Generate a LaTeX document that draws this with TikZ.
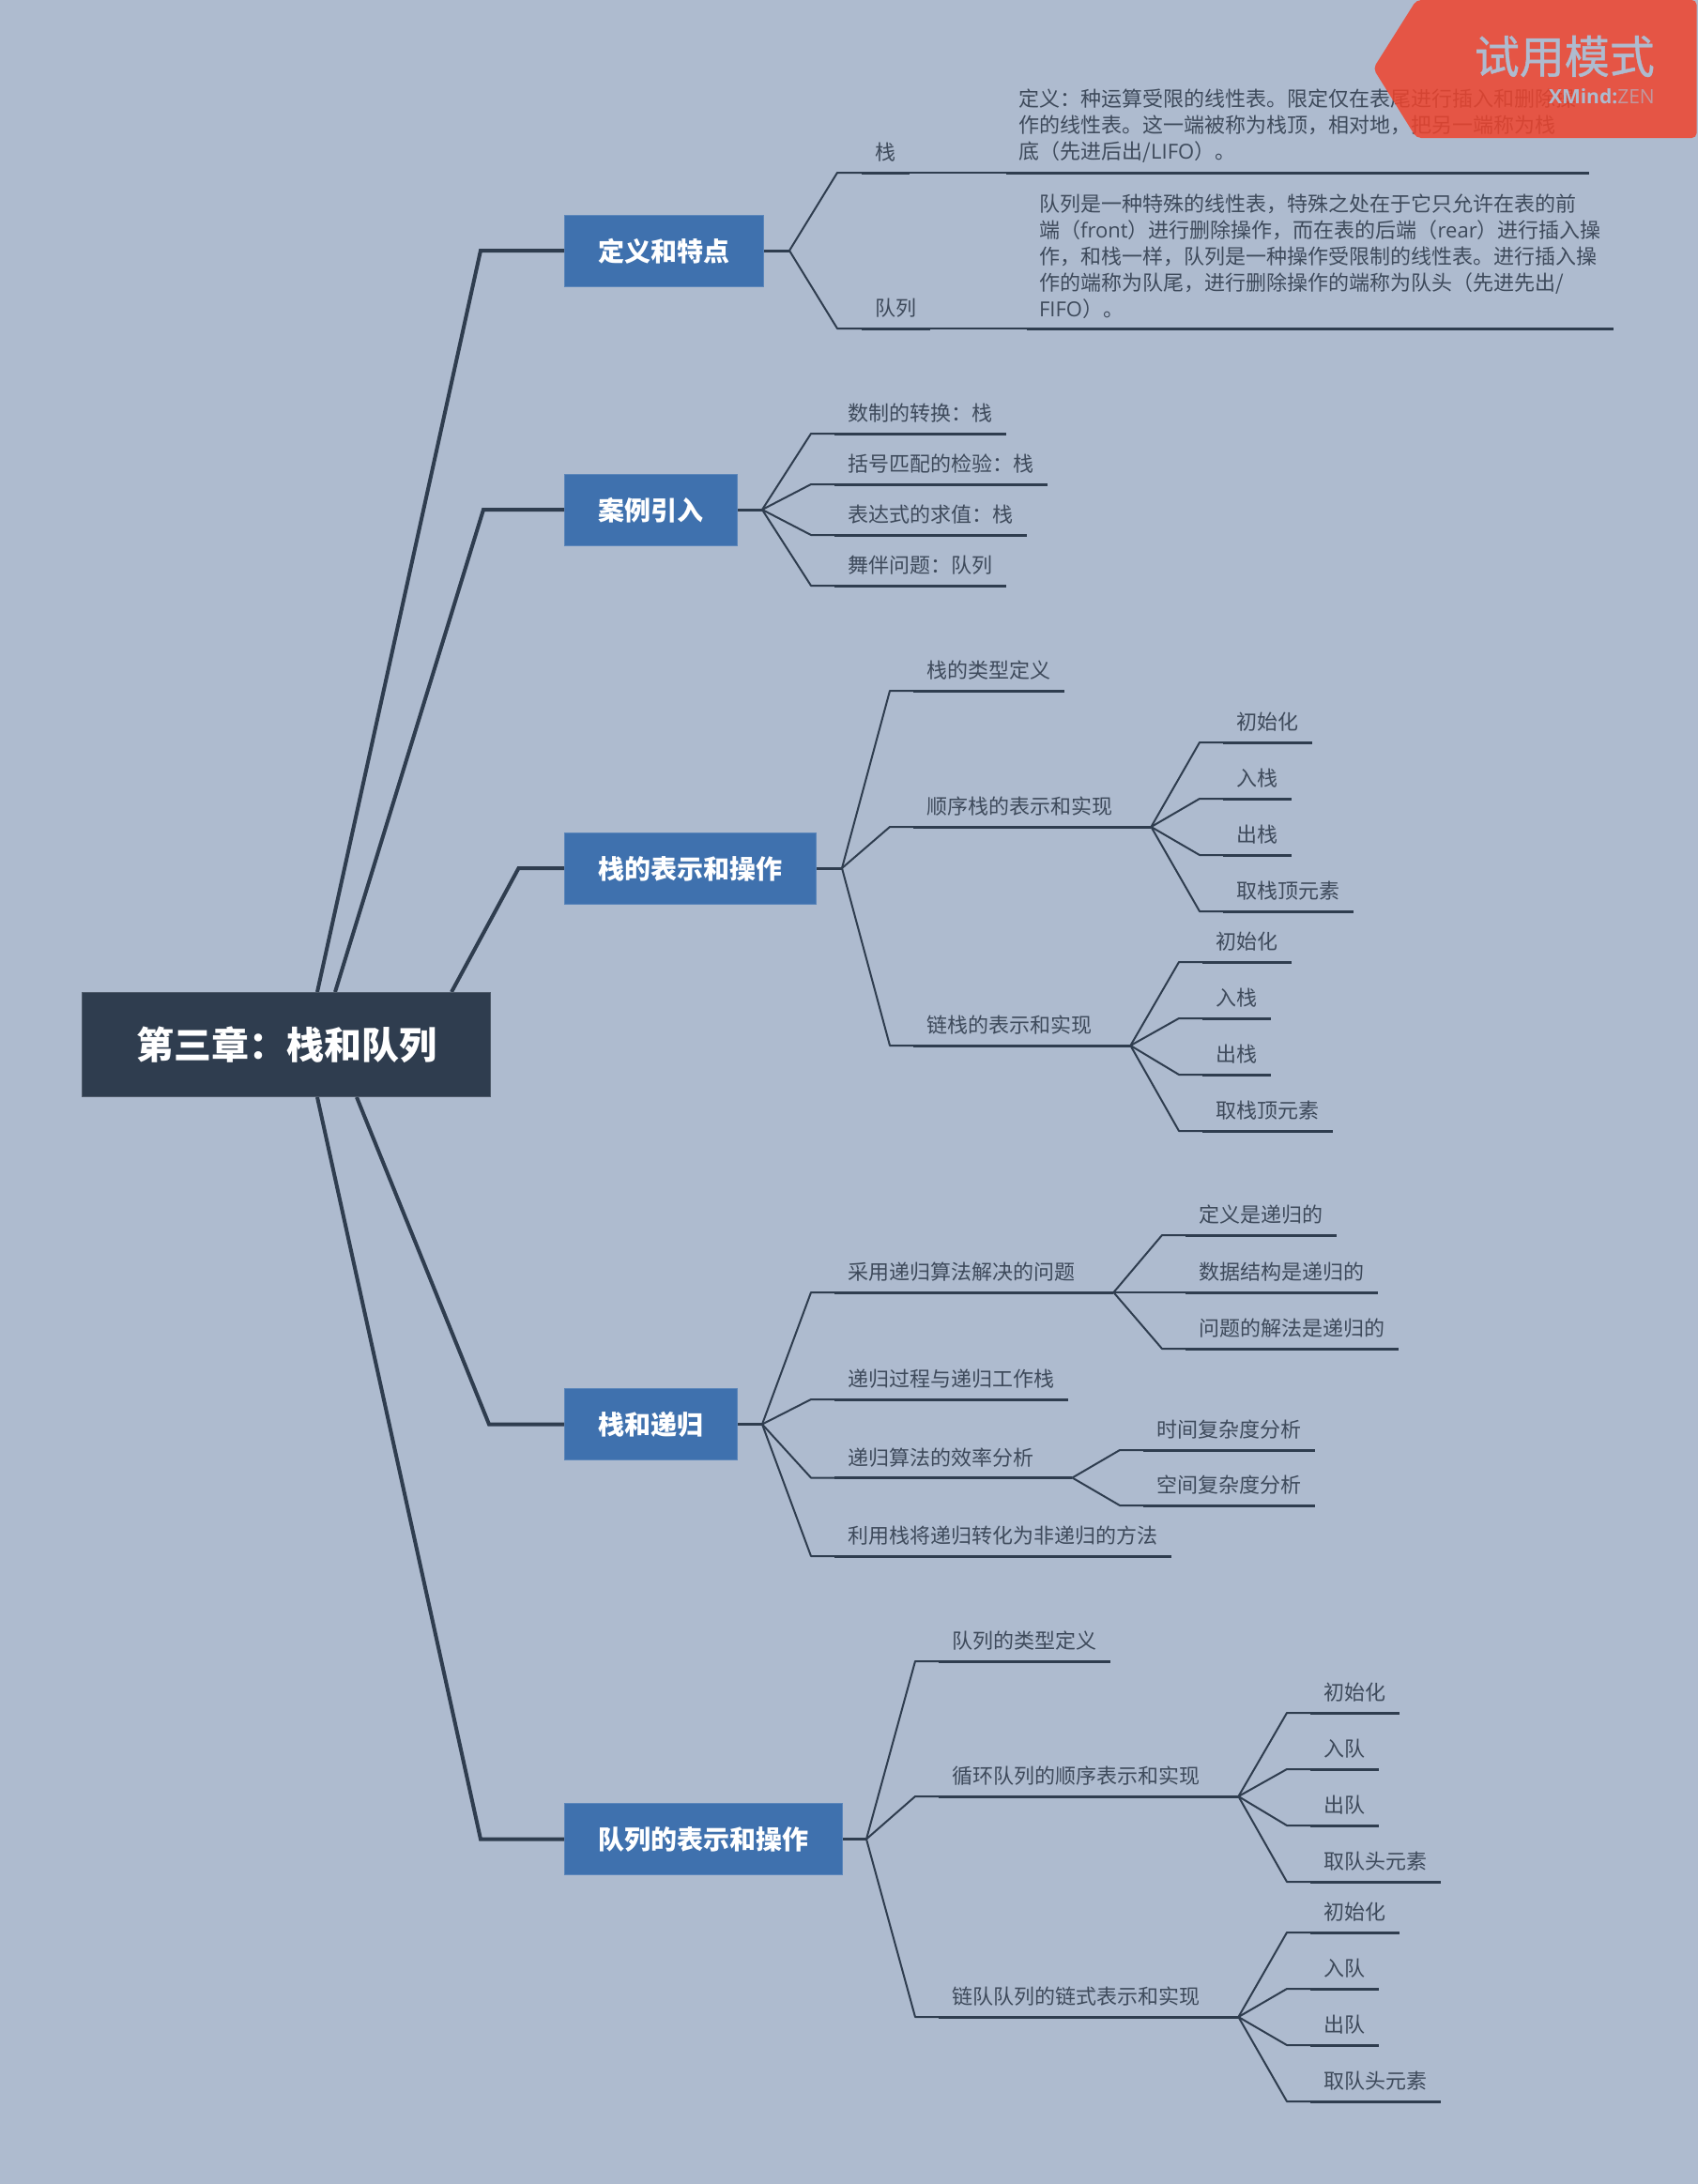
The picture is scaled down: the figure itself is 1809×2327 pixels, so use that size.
\documentclass[tikz,border=0pt]{standalone}
\usepackage{fontspec}
\usepackage{xcolor}
\usetikzlibrary{positioning}
\setmainfont{Noto Sans CJK SC}
\newfontfamily\brandfont{Open Sans}
\newfontfamily\markfont[FakeBold=0.8]{Noto Sans CJK SC}

\definecolor{bgblue}{HTML}{AEBBCF}
\definecolor{inkdark}{HTML}{2F3D4F}
\definecolor{inktext}{HTML}{3E4A5B}
\definecolor{topicblue}{HTML}{3F71AE}
\definecolor{markred}{HTML}{EF442D}

\begin{document}
\begin{tikzpicture}[x=1pt, y=-1pt]
	\tikzset{
		root/.style={rectangle, draw=inkdark!85!white, line width=1pt, fill=inkdark, text=white, font=\fontsize{40pt}{48pt}\selectfont\bfseries,
		minimum width=435pt, minimum height=111pt},
		topic/.style={rectangle, draw=topicblue!85!white, line width=1pt, fill=topicblue, text=white, font=\fontsize{28pt}{34pt}\selectfont\bfseries,
		anchor=west, minimum height=76pt, inner xsep=36pt, text height=26pt, text depth=3.5pt},
		ruled/.style={rectangle, anchor=south west, text=inktext, font=\fontsize{22pt}{28pt}\selectfont,
		append after command={(\tikzlastnode.south west) edge[underline] (\tikzlastnode.south east)}},
		leaf/.style={ruled, minimum height=44pt, inner xsep=14.5pt, inner ysep=0pt, text height=20pt, text depth=2pt},
		note/.style={ruled, align=left, inner xsep=13pt, inner ysep=10pt},
		underline/.style={draw=inkdark, line width=3pt},
		trunk/.style={draw=inkdark, line width=4pt},
		stem/.style={draw=inkdark, line width=3pt},
		twig/.style={draw=inkdark, line width=2pt, line join=bevel}
	}
	\fill[bgblue] (0,0) rectangle (1809,2327);
	\useasboundingbox (0,0) rectangle (1809,2327);

	\node[topic](defn) at (601,267){定义和特点};
	\node[topic](cases) at (601,543){案例引入};
	\node[topic](stack) at (601,925){栈的表示和操作};
	\node[topic](recur) at (601,1517.5){栈和递归};
	\node[topic](queue) at (601,1959.5){队列的表示和操作};

	\draw[trunk](338,1057) -- (512,267) -- (defn.west);
	\draw[trunk](357,1057) -- (515,543) -- (cases.west);
	\draw[trunk](481,1057) -- (552.5,925) -- (stack.west);
	\draw[trunk](380,1169) -- (521,1517.5) -- (recur.west);
	\draw[trunk](338,1169) -- (512,1959.5) -- (queue.west);
	\node[root](main) at (305,1113){第三章：栈和队列};

	% definitions
	\coordinate (defnjoin) at ([xshift=27pt]defn.east);
	\draw[stem](defn.east) -- (defnjoin);
	\node[leaf](defstack) at (918,184){栈};
	\node[note, right=103pt of defstack.south east, anchor=south west](defstacktext){定义：种运算受限的线性表。限定仅在表尾进行插入和删除操\\作的线性表。这一端被称为栈顶，相对地，把另一端称为栈\\底（先进后出/{\brandfont LIFO}）。};
	\node[leaf](defqueue) at (918,350){队列};
	\node[note, right=102.5pt of defqueue.south east, anchor=south west](defqueuetext){队列是一种特殊的线性表，特殊之处在于它只允许在表的前\\端（{\brandfont front}）进行删除操作，而在表的后端（{\brandfont rear}）进行插入操\\作，和栈一样，队列是一种操作受限制的线性表。进行插入操\\作的端称为队尾，进行删除操作的端称为队头（先进先出/\\{\brandfont FIFO}）。};
	\draw[twig](defnjoin) -- ([xshift=-26pt]defstack.south west) -- (defstack.south west);
	\draw[twig](defnjoin) -- ([xshift=-26pt]defqueue.south west) -- (defqueue.south west);
	\draw[twig](defstack.south east) -- (defstacktext.south west);
	\draw[twig](defqueue.south east) -- (defqueuetext.south west);

	% cases
	\coordinate (casesjoin) at ([xshift=26pt]cases.east);
	\draw[stem](cases.east) -- (casesjoin);
	\node[leaf](caseA) at (889,462){数制的转换：栈};
	\node[leaf, below=54pt of caseA.south west, anchor=south west](caseB){括号匹配的检验：栈};
	\node[leaf, below=54pt of caseB.south west, anchor=south west](caseC){表达式的求值：栈};
	\node[leaf, below=54pt of caseC.south west, anchor=south west](caseD){舞伴问题：队列};
	\draw[twig](casesjoin) -- ([xshift=-25pt]caseA.south west) -- (caseA.south west);
	\draw[twig](casesjoin) -- ([xshift=-25pt]caseB.south west) -- (caseB.south west);
	\draw[twig](casesjoin) -- ([xshift=-25pt]caseC.south west) -- (caseC.south west);
	\draw[twig](casesjoin) -- ([xshift=-25pt]caseD.south west) -- (caseD.south west);

	% stack
	\coordinate (stackjoin) at ([xshift=27pt]stack.east);
	\draw[stem](stack.east) -- (stackjoin);
	\node[leaf](stype) at (973,736){栈的类型定义};
	\node[leaf](sseq) at (973,881){顺序栈的表示和实现};
	\node[leaf](slink) at (973,1114){链栈的表示和实现};
	\draw[twig](stackjoin) -- ([xshift=-25pt]stype.south west) -- (stype.south west);
	\draw[twig](stackjoin) -- ([xshift=-25pt]sseq.south west) -- (sseq.south west);
	\draw[twig](stackjoin) -- ([xshift=-25pt]slink.south west) -- (slink.south west);

	\coordinate (sseqjoin) at ([xshift=26pt]sseq.south east);
	\draw[stem](sseq.south east) -- (sseqjoin);
	\node[leaf](sseqA) at (1303,791){初始化};
	\node[leaf, below=60pt of sseqA.south west, anchor=south west](sseqB){入栈};
	\node[leaf, below=60pt of sseqB.south west, anchor=south west](sseqC){出栈};
	\node[leaf, below=60pt of sseqC.south west, anchor=south west](sseqD){取栈顶元素};
	\draw[twig](sseqjoin) -- ([xshift=-25pt]sseqA.south west) -- (sseqA.south west);
	\draw[twig](sseqjoin) -- ([xshift=-25pt]sseqB.south west) -- (sseqB.south west);
	\draw[twig](sseqjoin) -- ([xshift=-25pt]sseqC.south west) -- (sseqC.south west);
	\draw[twig](sseqjoin) -- ([xshift=-25pt]sseqD.south west) -- (sseqD.south west);

	\coordinate (slinkjoin) at ([xshift=26pt]slink.south east);
	\draw[stem](slink.south east) -- (slinkjoin);
	\node[leaf](slinkA) at (1281,1025){初始化};
	\node[leaf, below=60pt of slinkA.south west, anchor=south west](slinkB){入栈};
	\node[leaf, below=60pt of slinkB.south west, anchor=south west](slinkC){出栈};
	\node[leaf, below=60pt of slinkC.south west, anchor=south west](slinkD){取栈顶元素};
	\draw[twig](slinkjoin) -- ([xshift=-25pt]slinkA.south west) -- (slinkA.south west);
	\draw[twig](slinkjoin) -- ([xshift=-25pt]slinkB.south west) -- (slinkB.south west);
	\draw[twig](slinkjoin) -- ([xshift=-25pt]slinkC.south west) -- (slinkC.south west);
	\draw[twig](slinkjoin) -- ([xshift=-25pt]slinkD.south west) -- (slinkD.south west);

	% recursion
	\coordinate (recurjoin) at ([xshift=26pt]recur.east);
	\draw[stem](recur.east) -- (recurjoin);
	\node[leaf](rsolve) at (889,1377){采用递归算法解决的问题};
	\node[leaf](rproc) at (889,1491){递归过程与递归工作栈};
	\node[leaf](rcost) at (889,1574.5){递归算法的效率分析};
	\node[leaf](rconv) at (889,1658){利用栈将递归转化为非递归的方法};
	\draw[twig](recurjoin) -- ([xshift=-25pt]rsolve.south west) -- (rsolve.south west);
	\draw[twig](recurjoin) -- ([xshift=-25pt]rproc.south west) -- (rproc.south west);
	\draw[twig](recurjoin) -- ([xshift=-25pt]rcost.south west) -- (rcost.south west);
	\draw[twig](recurjoin) -- ([xshift=-25pt]rconv.south west) -- (rconv.south west);

	\coordinate (rsolvejoin) at ([xshift=26pt]rsolve.south east);
	\draw[stem](rsolve.south east) -- (rsolvejoin);
	\node[leaf](rsolveA) at (1263,1316){定义是递归的};
	\node[leaf, below=61pt of rsolveA.south west, anchor=south west](rsolveB){数据结构是递归的};
	\node[leaf, below=60pt of rsolveB.south west, anchor=south west](rsolveC){问题的解法是递归的};
	\draw[twig](rsolvejoin) -- ([xshift=-25pt]rsolveA.south west) -- (rsolveA.south west);
	\draw[twig](rsolvejoin) -- ([xshift=-25pt]rsolveB.south west) -- (rsolveB.south west);
	\draw[twig](rsolvejoin) -- ([xshift=-25pt]rsolveC.south west) -- (rsolveC.south west);

	\coordinate (rcostjoin) at ([xshift=26pt]rcost.south east);
	\draw[stem](rcost.south east) -- (rcostjoin);
	\node[leaf](rcostA) at (1218,1545){时间复杂度分析};
	\node[leaf, below=59pt of rcostA.south west, anchor=south west](rcostB){空间复杂度分析};
	\draw[twig](rcostjoin) -- ([xshift=-25pt]rcostA.south west) -- (rcostA.south west);
	\draw[twig](rcostjoin) -- ([xshift=-25pt]rcostB.south west) -- (rcostB.south west);

	% queue
	\coordinate (queuejoin) at ([xshift=25pt]queue.east);
	\draw[stem](queue.east) -- (queuejoin);
	\node[leaf](qtype) at (1000,1770){队列的类型定义};
	\node[leaf](qseq) at (1000,1914){循环队列的顺序表示和实现};
	\node[leaf](qlink) at (1000,2149){链队队列的链式表示和实现};
	\draw[twig](queuejoin) -- ([xshift=-25pt]qtype.south west) -- (qtype.south west);
	\draw[twig](queuejoin) -- ([xshift=-25pt]qseq.south west) -- (qseq.south west);
	\draw[twig](queuejoin) -- ([xshift=-25pt]qlink.south west) -- (qlink.south west);

	\coordinate (qseqjoin) at ([xshift=26pt]qseq.south east);
	\draw[stem](qseq.south east) -- (qseqjoin);
	\node[leaf](qseqA) at (1396,1825){初始化};
	\node[leaf, below=60pt of qseqA.south west, anchor=south west](qseqB){入队};
	\node[leaf, below=60pt of qseqB.south west, anchor=south west](qseqC){出队};
	\node[leaf, below=60pt of qseqC.south west, anchor=south west](qseqD){取队头元素};
	\draw[twig](qseqjoin) -- ([xshift=-25pt]qseqA.south west) -- (qseqA.south west);
	\draw[twig](qseqjoin) -- ([xshift=-25pt]qseqB.south west) -- (qseqB.south west);
	\draw[twig](qseqjoin) -- ([xshift=-25pt]qseqC.south west) -- (qseqC.south west);
	\draw[twig](qseqjoin) -- ([xshift=-25pt]qseqD.south west) -- (qseqD.south west);

	\coordinate (qlinkjoin) at ([xshift=26pt]qlink.south east);
	\draw[stem](qlink.south east) -- (qlinkjoin);
	\node[leaf](qlinkA) at (1396,2059){初始化};
	\node[leaf, below=60pt of qlinkA.south west, anchor=south west](qlinkB){入队};
	\node[leaf, below=60pt of qlinkB.south west, anchor=south west](qlinkC){出队};
	\node[leaf, below=60pt of qlinkC.south west, anchor=south west](qlinkD){取队头元素};
	\draw[twig](qlinkjoin) -- ([xshift=-25pt]qlinkA.south west) -- (qlinkA.south west);
	\draw[twig](qlinkjoin) -- ([xshift=-25pt]qlinkB.south west) -- (qlinkB.south west);
	\draw[twig](qlinkjoin) -- ([xshift=-25pt]qlinkC.south west) -- (qlinkC.south west);
	\draw[twig](qlinkjoin) -- ([xshift=-25pt]qlinkD.south west) -- (qlinkD.south west);

	% trial mark
	\fill[markred, fill opacity=0.85, rounded corners=5pt] (1509,0) -- (1807.5,0) -- (1807.5,147) -- (1509,147) -- (1463,73) -- cycle;
	\node[anchor=east, text=bgblue, inner sep=0pt, font=\fontsize{48pt}{56pt}\selectfont\markfont](marktitle) at (1763,60){试用模式};
	\node[anchor=east, text=bgblue, inner sep=0pt, font=\fontsize{21pt}{24pt}\selectfont\brandfont](markbrand) at (1763,103){\textbf{XMind:}{\color{bgblue!70!markred}ZEN}};
\end{tikzpicture}
\end{document}
